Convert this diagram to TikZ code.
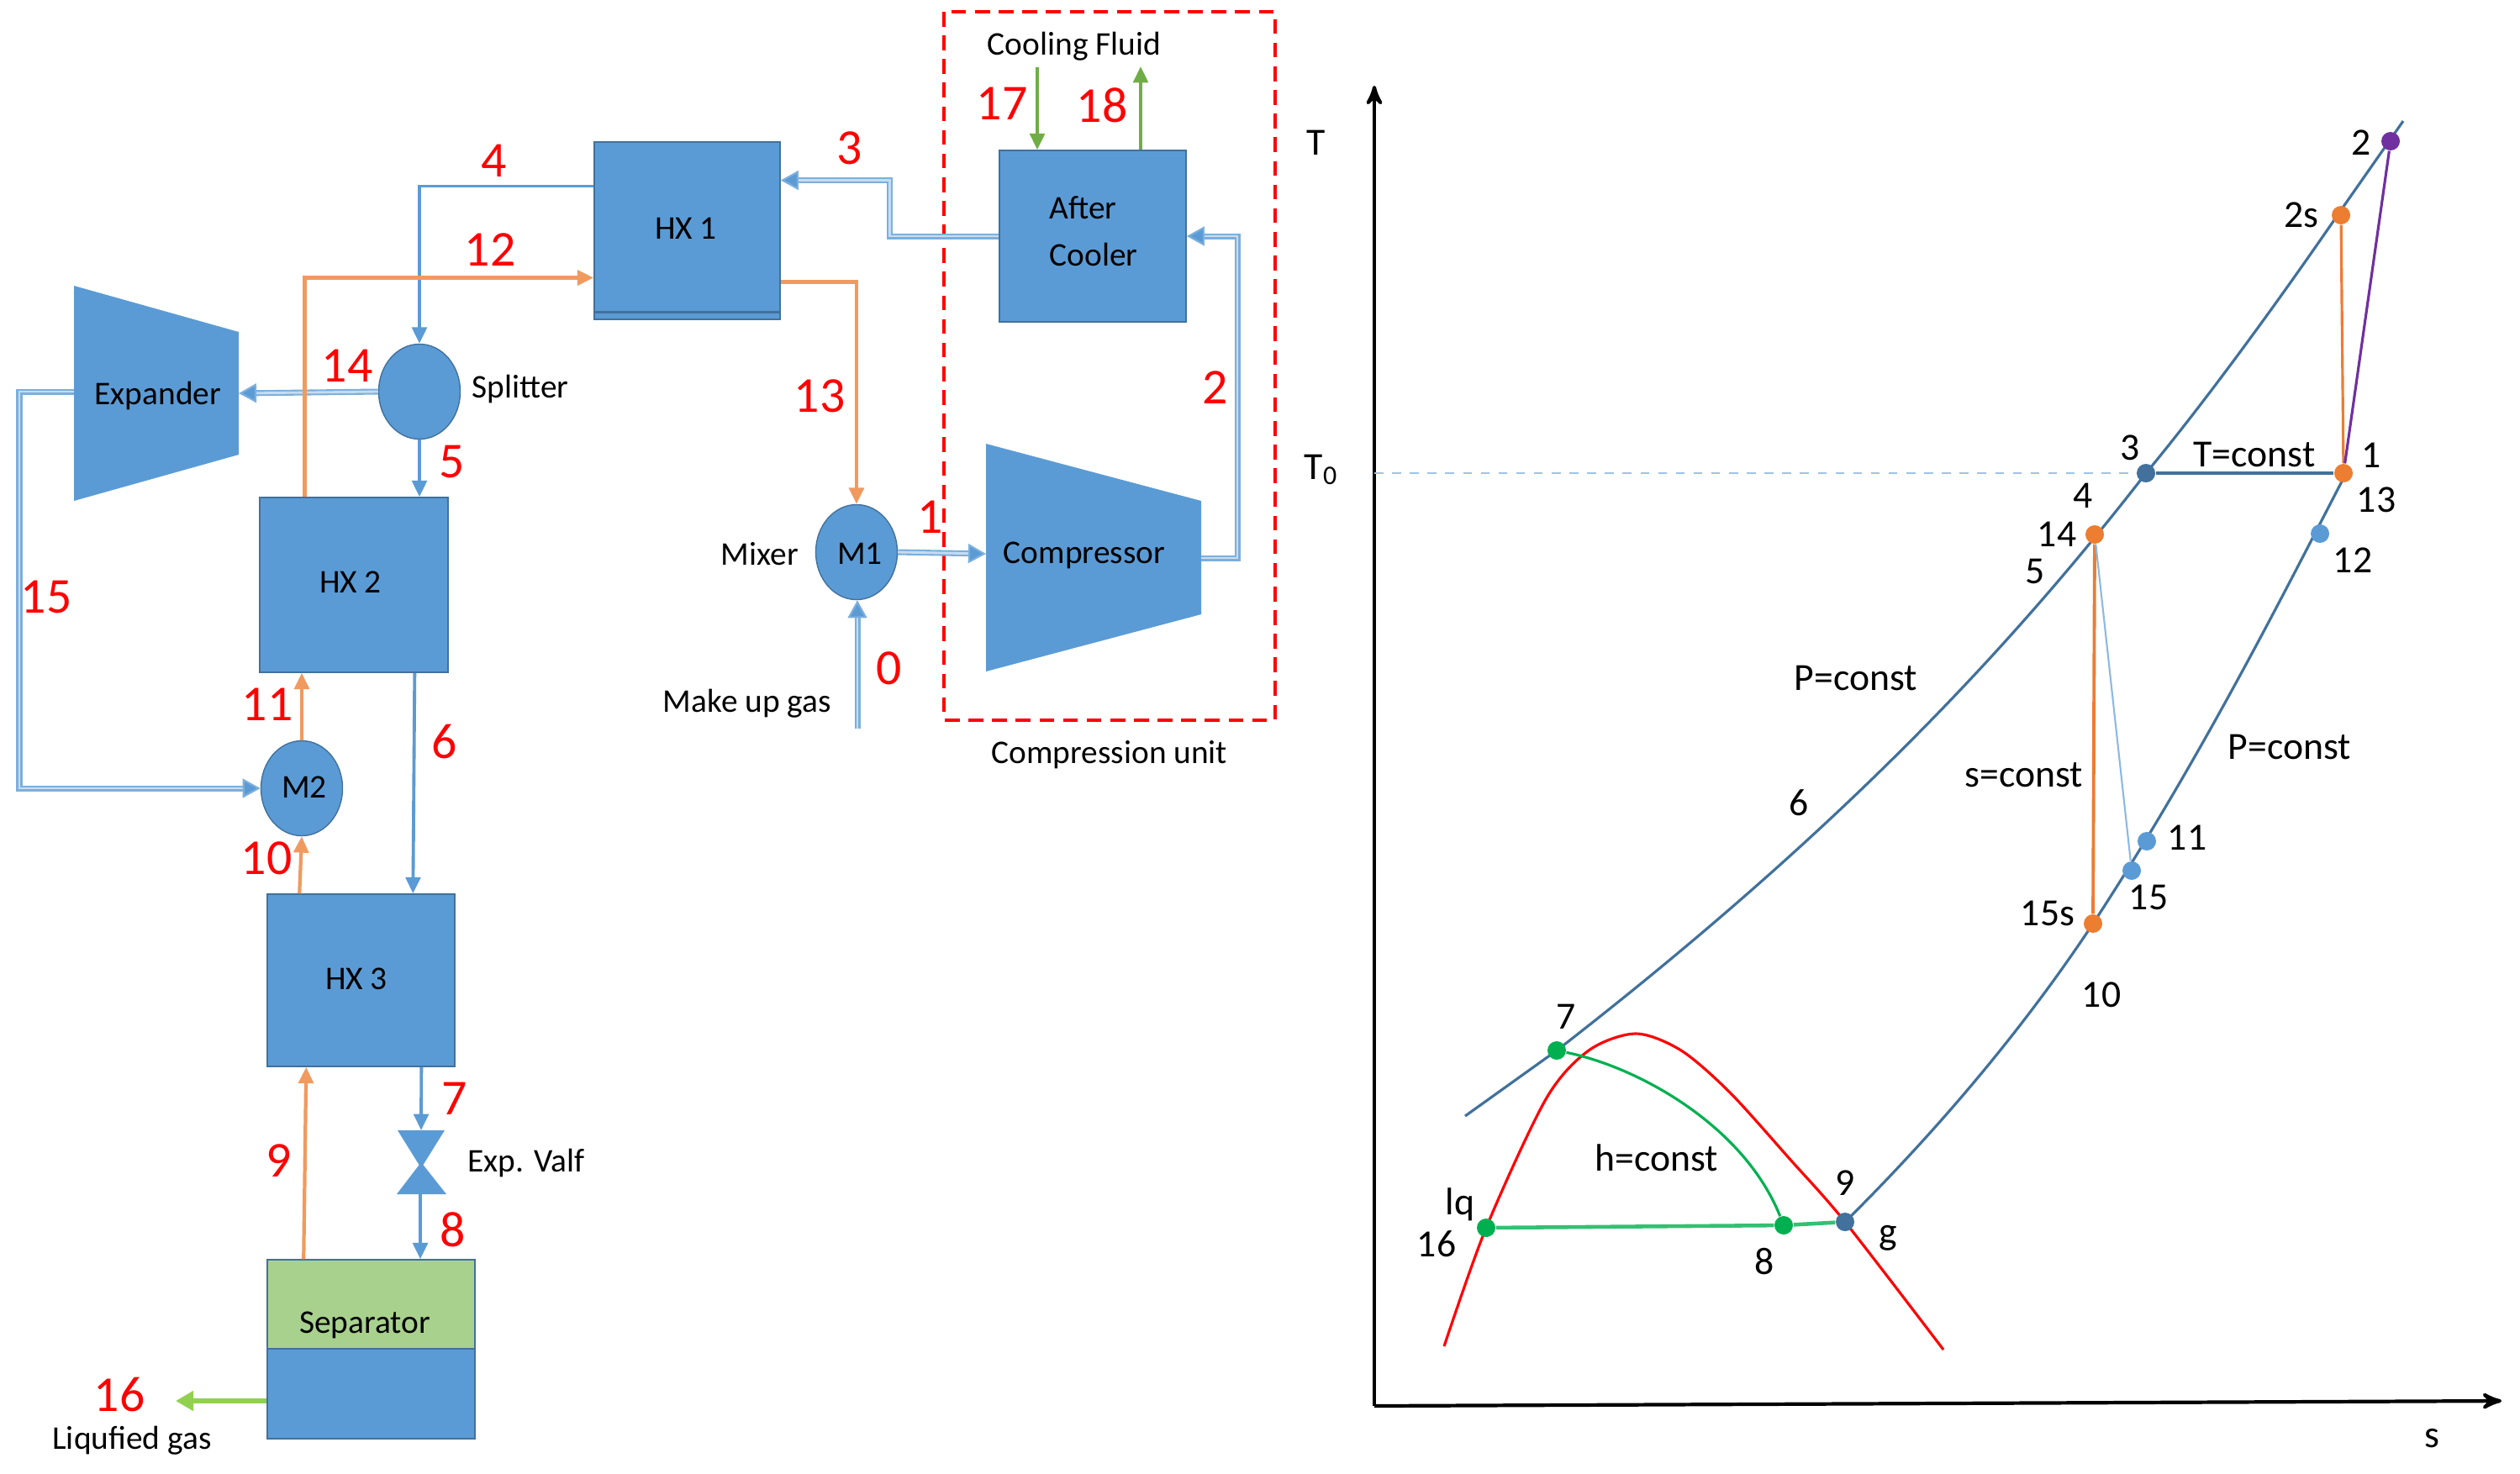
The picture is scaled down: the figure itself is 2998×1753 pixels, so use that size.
\documentclass[tikz,border=0pt]{standalone}
\usepackage{fontspec}
\setmainfont{Carlito}
\usetikzlibrary{arrows,arrows.meta,shapes,positioning}
\definecolor{unitblue}{HTML}{5B9BD5}
\definecolor{unitedge}{HTML}{41719C}
\definecolor{pipepale}{HTML}{C5DCF1}
\definecolor{hotorange}{HTML}{ED7D31}
\definecolor{lineorange}{HTML}{F09A60}
\definecolor{coolgreen}{HTML}{70AD47}
\definecolor{sepgreen}{HTML}{A9D18E}
\definecolor{liqgreen}{HTML}{92D050}
\definecolor{dotgreen}{HTML}{00B050}
\definecolor{curveblue}{HTML}{41719C}
\definecolor{dotpurple}{HTML}{7030A0}
\tikzset{style={>={Triangle[length=5.5pt,width=5pt]}}}
\tikzset{hxbox/.style={rectangle,fill=unitblue,draw=unitedge,line width=0.4pt,inner sep=0mm,font=\fontsize{11.2}{16}\selectfont}}
\tikzset{drum/.style={ellipse,fill=unitblue,draw=unitedge,line width=0.4pt,inner sep=0mm,minimum width=9.7mm,minimum height=11.3mm,font=\fontsize{11.2}{16}\selectfont}}
\tikzset{unittext/.style={inner sep=0mm,align=left,font=\fontsize{11.2}{16}\selectfont}}
\tikzset{numred/.style={inner sep=0mm,text=red,font=\fontsize{17}{20}\selectfont}}
\tikzset{plottext/.style={inner sep=0mm,font=\fontsize{13}{15}\selectfont}}
\tikzset{statedot/.style={circle,inner sep=0mm,minimum size=2.2mm}}
\tikzset{pipe/.style={->,draw=unitblue,line width=1.1pt}}
\tikzset{widepipe/.style={-{Triangle[length=6pt,width=6.5pt,fill=unitblue]},draw=unitblue!80,double=pipepale,double distance=0.8pt,line width=0.6pt}}
\tikzset{hotpipe/.style={->,draw=lineorange,line width=1.2pt}}
\tikzset{curveline/.style={draw=curveblue,line width=0.9pt}}
\begin{document}
\begin{tikzpicture}[x=0.01cm,y=-0.01cm]
    \useasboundingbox (0,0) rectangle (2998,1753);

    \fill[unitblue] (88,340) -- (284,395) -- (284,541) -- (88,596) -- cycle;
    \fill[unitblue] (1173,528) -- (1429,596) -- (1429,731) -- (1173,799) -- cycle;
    \fill[unitblue] (473,1345) -- (529,1345) -- (501,1390) -- cycle;
    \fill[unitblue] (501,1383) -- (531,1421) -- (472,1421) -- cycle;

    \coordinate (expin)   at (284,468);
    \coordinate (expout)  at (88,466);
    \coordinate (compin)  at (1173,659);
    \coordinate (compout) at (1429,664);
    \coordinate (valvein)  at (501,1345);
    \coordinate (valveout) at (500,1421);
    \coordinate (fluidin)  at (1234,80);
    \coordinate (fluidout) at (1357,79);
    \coordinate (makeup)   at (1020,867);
    \coordinate (liqout)   at (209,1667);

    \node[hxbox,minimum width=22.2mm,minimum height=20.4mm] (ac)    at (1300,281) {};
    \node[hxbox,minimum width=22.1mm,minimum height=21.1mm] (hxa)   at (817.5,274.5) {};
    \node[hxbox,minimum width=22.4mm,minimum height=20.8mm] (hxb)   at (421,696) {};
    \node[hxbox,minimum width=22.3mm,minimum height=20.5mm] (hxc)   at (429.5,1166.5) {};
    \node[hxbox,fill=sepgreen,minimum width=24.7mm,minimum height=10.6mm] (sepgas) at (441.5,1552) {};
    \node[hxbox,minimum width=24.7mm,minimum height=10.7mm] (sepliq) at (441.5,1658.5) {};
    \node[drum] (split) at (499,466) {};
    \node[drum] (mone)  at (1019,657) {};
    \node[drum] (mtwo)  at (359,938) {};

    \draw[unitedge,line width=0.8pt] ([shift={(0,-9)}]hxa.south west) -- ([shift={(0,-9)}]hxa.south east);
    \draw[red,dashed,line width=1pt,dash pattern=on 5pt off 3pt] (1123,14) rectangle (1517,857);

    \draw[pipe] ([shift={(0,-53)}]hxa.west) -| (split.north);
    \draw[pipe] (split.south) -- (hxb.north -| split.south);
    \draw[pipe] ([xshift=1.85cm]hxb.south west) -- ([xshift=1.74cm]hxc.north west);
    \draw[pipe] ([xshift=1.84cm]hxc.south west) -- (valvein);
    \draw[pipe] (valveout) -- (sepgas.north -| valveout);
    \draw[widepipe] (ac.west) -- ++(-130,0) |- ([shift={(0,-60)}]hxa.east);
    \draw[widepipe] (compout) -- ++(43,0) |- (ac.east);
    \draw[widepipe] (split.west) -- (expin);
    \draw[widepipe] (expout) -- ++(-65,0) |- (mtwo.west);
    \draw[widepipe] (mone.east) -- (compin);
    \draw[widepipe] (makeup) -- (mone.south -| makeup);

    \draw[hotpipe,line width=1.5pt] ([xshift=0.54cm]hxb.north west) |- ([shift={(0,56)}]hxa.west);
    \draw[hotpipe] ([shift={(0,61)}]hxa.east) -| (mone.north);
    \draw[hotpipe] (mtwo.north) -- (hxb.south -| mtwo.north);
    \draw[hotpipe] ([xshift=0.39cm]hxc.north west) -- (mtwo.south);
    \draw[hotpipe] ([xshift=0.44cm]sepgas.north west) -- ([xshift=0.47cm]hxc.south west);

    \draw[->,draw=coolgreen,line width=1.1pt] (fluidin) -- (ac.north -| fluidin);
    \draw[->,draw=coolgreen,line width=1.1pt] (ac.north -| fluidout) -- (fluidout);
    \draw[-{Triangle[length=6pt,width=6.5pt]},draw=liqgreen,line width=1.6pt] (sepliq.west |- liqout) -- (liqout);

    \node[unittext] (tcool)  at (1278,55)  {Cooling Fluid};
    \node[unittext] (tac)    at (1301,275) {After\\Cooler};
    \node[unittext] (thxa)   at (816,272)  {HX 1};
    \node[unittext] (thxb)   at (417,693)  {HX 2};
    \node[unittext] (thxc)   at (424,1165) {HX 3};
    \node[unittext] (texp)   at (188,471)  {Expander};
    \node[unittext] (tcomp)  at (1290,661) {Compressor};
    \node[unittext] (tsplit) at (619,463)  {Splitter};
    \node[unittext] (tmix)   at (904,659)  {Mixer};
    \node[unittext] (tmone)  at (1023,659) {M1};
    \node[unittext] (tmtwo)  at (362,937)  {M2};
    \node[unittext] (tmake)  at (889,837)  {Make up gas};
    \node[unittext] (tvalve) at (626,1384) {Exp. Valf};
    \node[unittext] (tsep)   at (434,1577) {Separator};
    \node[unittext] (tliq)   at (157,1714) {Liqufied gas};
    \node[unittext] (tunit)  at (1320,898) {Compression unit};

    \node[numred] (na)  at (1058,795) {0};
    \node[numred] (nb)  at (1107,615) {1};
    \node[numred] (nc)  at (1446,461) {2};
    \node[numred] (nd)  at (1011,176) {3};
    \node[numred] (ne)  at (588,191)  {4};
    \node[numred] (nf)  at (538,550)  {5};
    \node[numred] (ng)  at (529,883)  {6};
    \node[numred] (nh)  at (541,1307) {7};
    \node[numred] (ni)  at (539,1463) {8};
    \node[numred] (nj)  at (332,1381) {9};
    \node[numred] (nk)  at (317,1021) {10};
    \node[numred] (nl)  at (318,838)  {11};
    \node[numred] (nm)  at (583,297)  {12};
    \node[numred] (nn)  at (975,471)  {13};
    \node[numred] (no)  at (413,435)  {14};
    \node[numred] (np)  at (55,710)   {15};
    \node[numred] (nq)  at (142,1659) {16};
    \node[numred] (nr)  at (1192,123) {17};
    \node[numred] (ns)  at (1311,125) {18};

    % T-s chart
    \coordinate (orig)  at (1635,1673);
    \coordinate (ttop)  at (1635,102);
    \coordinate (send)  at (2976,1667);
    \draw[->,>=stealth',line width=1.2pt] (orig) -- (ttop);
    \draw[->,>=stealth',line width=1.2pt] (orig) -- (send);

    \draw[curveline] (2859,144) -- (2785,250) .. controls (2720,345) and (2630,470) .. (2553,563) .. controls (2400,760) and (2200,980) .. (1852,1250) -- (1743,1328);
    \draw[curveline] (2788,569) .. controls (2720,700) and (2620,900) .. (2490,1099) .. controls (2410,1220) and (2310,1340) .. (2195,1454);
    \draw[red,line width=0.9pt] plot[smooth] coordinates {(1718,1602) (1768,1461) (1839,1308) (1890,1250) (1946,1230) (2000,1250) (2058,1300) (2130,1380) (2195,1454) (2312,1606)};

    \node[statedot,fill=dotpurple]  (ptb)   at (2844,168)  {};
    \node[statedot,fill=hotorange]  (pts)   at (2785,256)  {};
    \node[statedot,fill=curveblue]  (pta)   at (2553,563)  {};
    \node[statedot,fill=hotorange]  (ptone) at (2788,563)  {};
    \node[statedot,fill=hotorange]  (ptf)   at (2492,636)  {};
    \node[statedot,fill=unitblue]   (ptl)   at (2760,635)  {};
    \node[statedot,fill=unitblue]   (ptk)   at (2554,1001) {};
    \node[statedot,fill=unitblue]   (ptp)   at (2536,1036) {};
    \node[statedot,fill=hotorange]  (ptq)   at (2490,1099) {};
    \node[statedot,fill=dotgreen]   (pth)   at (1852,1250) {};
    \node[statedot,fill=dotgreen]   (pti)   at (2122,1458) {};
    \node[statedot,fill=curveblue]  (ptj)   at (2195,1454) {};
    \node[statedot,fill=dotgreen]   (ptg)   at (1768,1461) {};

    \draw[draw=unitblue!60,dashed,line width=0.4pt] (orig |- pta) -- (pta);
    \draw[curveline] (pta) -- (ptone);
    \draw[hotorange,line width=0.9pt] (pts) -- (ptone);
    \draw[dotpurple,line width=0.9pt] (ptb) -- (ptone);
    \draw[hotorange,line width=1.1pt] (ptf) -- (ptq);
    \draw[unitblue!70,line width=0.6pt] (ptf) -- (ptp);
    \draw[dotgreen,line width=0.9pt] (pth) .. controls (1950,1270) and (2075,1340) .. (pti);
    \draw[dotgreen!80,line width=1.3pt] (ptg) -- (pti);
    \draw[dotgreen!80,line width=1.3pt] (pti) -- (ptj);

    \node[plottext] (lT)   at (1566,170)  {T};
    \node[plottext] (lTz)  at (1572,559)  {T\textsubscript{0}};
    \node[plottext] (ls)   at (2893,1712) {s};
    \node[plottext] (lb)   at (2809,170)  {2};
    \node[plottext] (lbs)  at (2738,256)  {2s};
    \node[plottext] (ltc)  at (2682,541)  {T=const};
    \node[plottext] (la)   at (2821,542)  {1};
    \node[plottext] (lm)   at (2827,595)  {13};
    \node[plottext] (lc)   at (2534,533)  {3};
    \node[plottext] (ld)   at (2478,590)  {4};
    \node[plottext] (ln)   at (2447,636)  {14};
    \node[plottext] (le)   at (2421,680)  {5};
    \node[plottext] (ll)   at (2799,667)  {12};
    \node[plottext] (lpb)  at (2724,889)  {P=const};
    \node[plottext] (lsc)  at (2408,922)  {s=const};
    \node[plottext] (lk)   at (2602,997)  {11};
    \node[plottext] (lo)   at (2556,1068) {15};
    \node[plottext] (lqs)  at (2436,1087) {15s};
    \node[plottext] (lj)   at (2500,1184) {10};
    \node[plottext] (lpa)  at (2208,807)  {P=const};
    \node[plottext] (lf)   at (2140,955)  {6};
    \node[plottext] (lg)   at (1863,1210) {7};
    \node[plottext] (lhc)  at (1971,1378) {h=const};
    \node[plottext] (llq)  at (1737,1433) {lq};
    \node[plottext] (lp)   at (1709,1480) {16};
    \node[plottext] (li)   at (2195,1408) {9};
    \node[plottext] (lgas) at (2246,1473) {g};
    \node[plottext] (lh)   at (2099,1501) {8};
\end{tikzpicture}
\end{document}
